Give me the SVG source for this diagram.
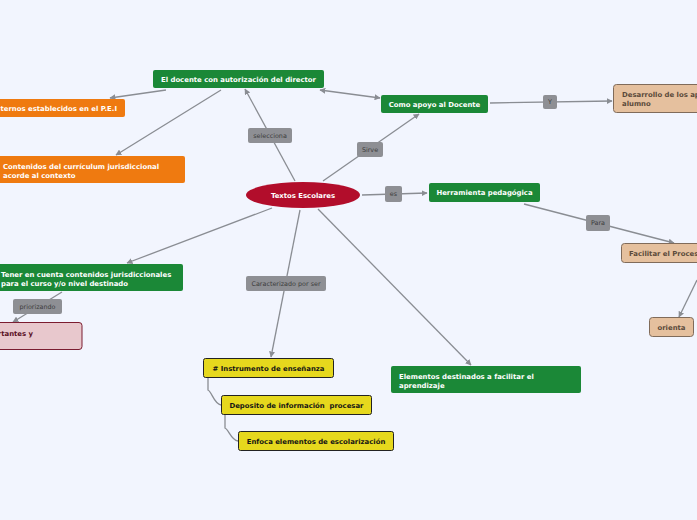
<svg xmlns="http://www.w3.org/2000/svg" width="697" height="520" viewBox="0 0 697 520">
<defs>
<marker id="arr" viewBox="0 0 10 10" refX="9" refY="5" markerWidth="6" markerHeight="6" orient="auto-start-reverse" markerUnits="userSpaceOnUse">
<path d="M0,0 L10,5 L0,10 z" fill="#8a8d93"/>
</marker>
<style>
.bg{fill:#f2f5fe}
.t{font-family:"DejaVu Sans",Verdana,sans-serif;font-weight:bold;font-size:6.9px;white-space:pre}
.w{fill:#ffffff}
.green{fill:#1b8837}
.orange{fill:#ef7a10}
.tan{fill:#e5c09e;stroke:#806b5a;stroke-width:1}
.tant{fill:#5b4a3a}
.pink{fill:#e8c8cd;stroke:#7b1c30;stroke-width:1}
.yel{fill:#e6d81d;stroke:#222;stroke-width:1}
.yt{fill:#151515}
.lab{fill:#8e8f94}
.lt{font-family:"DejaVu Sans",Verdana,sans-serif;font-size:6.4px;fill:#3c3c3c;text-anchor:middle}
.c{stroke:#8a8d93;stroke-width:1.3;fill:none}
.mid{text-anchor:middle}
</style>
</defs>
<rect class="bg" x="0" y="0" width="697" height="520"/>

<g id="connectors">
<line class="c" x1="295" y1="181" x2="245" y2="89" marker-end="url(#arr)"/>
<line class="c" x1="320" y1="90" x2="380" y2="98" marker-start="url(#arr)" marker-end="url(#arr)"/>
<line class="c" x1="323" y1="181" x2="419" y2="114" marker-end="url(#arr)"/>
<line class="c" x1="490" y1="103" x2="612" y2="101" marker-end="url(#arr)"/>
<line class="c" x1="362" y1="195" x2="427" y2="193" marker-end="url(#arr)"/>
<line class="c" x1="524" y1="204" x2="674" y2="243" marker-end="url(#arr)"/>
<line class="c" x1="697" y1="280" x2="679" y2="317" marker-end="url(#arr)"/>
<line class="c" x1="166" y1="90" x2="110" y2="98" marker-end="url(#arr)"/>
<line class="c" x1="221" y1="90" x2="116" y2="155" marker-end="url(#arr)"/>
<line class="c" x1="272" y1="208" x2="127" y2="263" marker-end="url(#arr)"/>
<line class="c" x1="62" y1="292" x2="13" y2="322" marker-end="url(#arr)"/>
<line class="c" x1="300" y1="210" x2="271" y2="357" marker-end="url(#arr)"/>
<line class="c" x1="318" y1="209" x2="471" y2="365" marker-end="url(#arr)"/>
<path class="c" d="M208,378 V390 C212,392 214,404 221,405"/>
<path class="c" d="M225,415 V428 C229,430 231,440 238,441"/>
</g>

<g id="lbl-selecciona"><rect class="lab" x="248" y="128" width="44" height="15" rx="2"/><text class="lt" x="270" y="137.7">selecciona</text></g>
<g id="lbl-sirve"><rect class="lab" x="357" y="142" width="26" height="15" rx="2"/><text class="lt" x="370" y="151.7">Sirve</text></g>
<g id="lbl-y"><rect class="lab" x="543" y="95" width="14" height="14" rx="2"/><text class="lt" x="550" y="104.2">Y</text></g>
<g id="lbl-es"><rect class="lab" x="385" y="186" width="17" height="16" rx="2"/><text class="lt" x="393.5" y="196.2">es</text></g>
<g id="lbl-para"><rect class="lab" x="586" y="215" width="24" height="16" rx="2"/><text class="lt" x="598" y="225.2">Para</text></g>
<g id="lbl-priorizando"><rect class="lab" x="13" y="299" width="49" height="15" rx="2"/><text class="lt" x="37.5" y="308.7">priorizando</text></g>
<g id="lbl-caracterizado"><rect class="lab" x="246" y="276" width="80" height="15" rx="2"/><text class="lt" x="286" y="285.7">Caracterizado por ser</text></g>

<g id="n-textos">
<ellipse cx="303" cy="195" rx="57" ry="13" fill="#b20d2b"/>
<text class="t w mid" x="303" y="197.5">Textos Escolares</text>
</g>
<g id="n-docente">
<rect class="green" x="153" y="70" width="171" height="18" rx="2"/>
<text class="t w mid" x="238.5" y="81.5">El docente con autorización del director</text>
</g>
<g id="n-pei">
<rect class="orange" x="-10" y="99" width="135" height="18" rx="2"/>
<text class="t w" x="117" y="110.5" text-anchor="end">internos establecidos en el P.E.I</text>
</g>
<g id="n-contenidos">
<rect class="orange" x="-10" y="156" width="195" height="27" rx="2"/>
<text class="t w" x="3" y="168.5">Contenidos del currículum jurisdiccional</text>
<text class="t w" x="3" y="177.5">acorde al contexto</text>
</g>
<g id="n-apoyo">
<rect class="green" x="381" y="95" width="107" height="18" rx="2"/>
<text class="t w mid" x="434.5" y="106.5">Como apoyo al Docente</text>
</g>
<g id="n-desarrollo">
<rect class="tan" x="613.5" y="84.5" width="110" height="28" rx="3"/>
<text class="t tant" x="622" y="96.5">Desarrollo de los aprendizajes</text>
<text class="t tant" x="622" y="105.5">alumno</text>
</g>
<g id="n-herramienta">
<rect class="green" x="429" y="183" width="111" height="19" rx="2"/>
<text class="t w mid" x="484.5" y="195">Herramienta pedagógica</text>
</g>
<g id="n-facilitar">
<rect class="tan" x="621.5" y="243.5" width="100" height="19" rx="3"/>
<text class="t tant" x="629" y="255.5">Facilitar el Proceso</text>
</g>
<g id="n-orienta">
<rect class="tan" x="649.5" y="317.5" width="44" height="19" rx="3"/>
<text class="t tant mid" x="671.5" y="329.5">orienta</text>
</g>
<g id="n-tener">
<rect class="green" x="-10" y="264" width="193" height="27" rx="2"/>
<text class="t w" x="1" y="276.5">Tener en cuenta contenidos jurisdiccionales</text>
<text class="t w" x="1" y="285.5">para el curso y/o nivel destinado</text>
</g>
<g id="n-importantes">
<rect class="pink" x="-10" y="322.5" width="92" height="27" rx="3"/>
<text class="t" fill="#5a0f1e" x="33" y="335.5" text-anchor="end">importantes y</text>
</g>
<g id="n-instrumento">
<rect class="yel" x="203.5" y="358.5" width="130" height="19" rx="2"/>
<text class="t yt mid" x="268.5" y="370.5"># Instrumento de enseñanza</text>
</g>
<g id="n-deposito">
<rect class="yel" x="221.5" y="395.5" width="150" height="19" rx="2"/>
<text class="t yt mid" x="296.5" y="407.5">Deposito de información  procesar</text>
</g>
<g id="n-enfoca">
<rect class="yel" x="238.5" y="431.5" width="155" height="19" rx="2"/>
<text class="t yt mid" x="316" y="443.5">Enfoca elementos de escolarización</text>
</g>
<g id="n-elementos">
<rect class="green" x="391" y="366" width="190" height="27" rx="2"/>
<text class="t w" x="399" y="378.5">Elementos destinados a facilitar el</text>
<text class="t w" x="399" y="387.5">aprendizaje</text>
</g>
</svg>
